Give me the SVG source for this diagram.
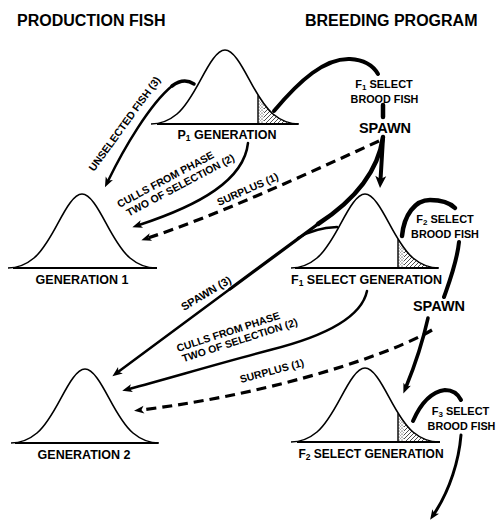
<svg xmlns="http://www.w3.org/2000/svg" xmlns:xlink="http://www.w3.org/1999/xlink" width="500" height="528" viewBox="0 0 500 528">
<style>
.t{font-family:"Liberation Sans",Arial,Helvetica,sans-serif;font-weight:bold;fill:#000}
.bell{fill:none;stroke:#000;stroke-width:1.6}
.base{stroke:#000;stroke-width:2}
.vl{stroke:#000;stroke-width:1.4}
.hatch{fill:url(#hatch);stroke:none}
.stip{fill:url(#stip);stroke:none}
.c{fill:none;stroke:#000;stroke-linecap:round}
.d{stroke-dasharray:10 6;stroke-linecap:butt}
.lbl{font-size:10.5px}
.cap{font-size:12.5px}
.sm{font-size:11px}
.sp{font-size:14.5px}
</style>
<defs>
<pattern id="hatch" patternUnits="userSpaceOnUse" width="4" height="4"><path d="M-1,1 L1,-1 M0,4 L4,0 M3,5 L5,3" stroke="#000" stroke-width="0.7"/></pattern>
<pattern id="stip" patternUnits="userSpaceOnUse" width="3" height="3"><rect width="3" height="3" fill="#fff"/><circle cx="1" cy="1" r="0.55" fill="#000"/><circle cx="2.4" cy="2.3" r="0.4" fill="#000"/></pattern>
<path id="bell" class="bell" d="M-74,0 C-65,0 -57.3,-2.23 -48,-10 C-40,-16.66 -32,-29.93 -24,-44.9 C-16,-59.9 -8,-74 0,-74 C8,-74 16,-59.9 24,-44.9 C32,-29.93 40,-16.66 48,-10 C57.3,-2.23 65,0 74,0"/>
<g id="tail">
<path class="hatch" d="M33,0 L33,-28.8 C38,-20.55 43,-14.17 48,-10 C57.3,-2.23 65,0 74,0 Z"/>
<path class="stip" d="M33,0 L33,-28.8 L39,-19.8 L39,0 Z"/>
<line class="vl" x1="33" y1="0" x2="33" y2="-28.8"/>
</g>
<marker id="ah" markerUnits="userSpaceOnUse" markerWidth="12" markerHeight="10" refX="3" refY="4" orient="auto" overflow="visible"><path d="M0,0 L10,4 L0,8 L2.5,4 Z" fill="#000"/></marker>
<marker id="ahb" markerUnits="userSpaceOnUse" markerWidth="14" markerHeight="12" refX="4" refY="5.5" orient="auto" overflow="visible"><path d="M0,0 L12,5.5 L0,11 L3,5.5 Z" fill="#000"/></marker>
</defs>

<rect width="500" height="528" fill="#fff"/>

<g id="titles">
<text class="t" x="17" y="26" font-size="16">PRODUCTION FISH</text>
<text class="t" x="305" y="26" font-size="16">BREEDING PROGRAM</text>
</g>

<g id="p1-generation" transform="translate(225,124)">
<use xlink:href="#tail"/>
<use xlink:href="#bell"/>
<line class="base" x1="-68" y1="0" x2="73" y2="0"/>
<text class="t cap" x="2" y="15" text-anchor="middle">P<tspan font-size="8.5" dy="2">1</tspan><tspan dy="-2"> GENERATION</tspan></text>
</g>

<g id="generation-1" transform="translate(82,268)">
<use xlink:href="#bell"/>
<line class="base" x1="-69" y1="0" x2="75" y2="0"/>
<text class="t cap" x="0" y="16" text-anchor="middle">GENERATION 1</text>
</g>

<g id="f1-select-generation" transform="translate(365,268)">
<use xlink:href="#tail"/>
<use xlink:href="#bell"/>
<line class="base" x1="-70" y1="0" x2="73" y2="0"/>
<text class="t cap" x="1.5" y="16" text-anchor="middle">F<tspan font-size="8.5" dy="2">1</tspan><tspan dy="-2"> SELECT GENERATION</tspan></text>
</g>

<g id="generation-2" transform="translate(85,443)">
<use xlink:href="#bell"/>
<line class="base" x1="-70" y1="0" x2="73" y2="0"/>
<text class="t cap" x="-1" y="16" text-anchor="middle">GENERATION 2</text>
</g>

<g id="f2-select-generation" transform="translate(365,442)">
<use xlink:href="#tail"/>
<use xlink:href="#bell"/>
<line class="base" x1="-68" y1="0" x2="75" y2="0"/>
<text class="t" font-size="12" x="6" y="16" text-anchor="middle">F<tspan font-size="8.5" dy="2">2</tspan><tspan dy="-2"> SELECT GENERATION</tspan></text>
</g>

<g id="f1-brood-fish">
<text class="t sm" x="384" y="88" text-anchor="middle">F<tspan font-size="8" dy="1.5">1</tspan><tspan dy="-1.5"> SELECT</tspan></text>
<text class="t" font-size="10.8" x="384.5" y="103" text-anchor="middle">BROOD FISH</text>
</g>
<g id="spawn-1"><text class="t sp" x="385" y="133" text-anchor="middle">SPAWN</text></g>

<g id="f2-brood-fish">
<text class="t sm" x="445" y="223" text-anchor="middle">F<tspan font-size="8" dy="1.5">2</tspan><tspan dy="-1.5"> SELECT</tspan></text>
<text class="t" font-size="10.8" x="445" y="238" text-anchor="middle">BROOD FISH</text>
</g>
<g id="spawn-2"><text class="t sp" x="439" y="311" text-anchor="middle">SPAWN</text></g>

<g id="f3-brood-fish">
<text class="t sm" x="460.5" y="415" text-anchor="middle">F<tspan font-size="8" dy="1.5">3</tspan><tspan dy="-1.5"> SELECT</tspan></text>
<text class="t" font-size="10.8" x="461.5" y="430" text-anchor="middle">BROOD FISH</text>
</g>

<g id="connectors">
<path class="c" stroke-width="4" d="M274,111 C300,80 325,58 350,59 C366,60 374,67 378,74"/>
<path class="c" stroke-width="4.5" stroke-linecap="butt" d="M383,105 L383,117"/>
<path class="c" stroke-width="4" stroke-linecap="butt" d="M383,138 L380.5,180" marker-end="url(#ahb)"/>
<path class="c" stroke-width="4.5" d="M383,137 C378,172 355,200 318,224"/>
<path class="c" stroke-width="3.3" d="M318,224 L230,289"/>
<path class="c" stroke-width="2.5" d="M230,289 L118,372" marker-end="url(#ah)"/>
<path class="c" stroke-width="2.5" d="M337,227 Q314,228 298,238"/>
<path class="c d" stroke-width="3.2" d="M379,141 C300,177 220,214 148,238" marker-end="url(#ah)"/>
<path class="c" stroke-width="2.5" d="M248,143 C244,180 200,205 139,225" marker-end="url(#ah)"/>
<path class="c" stroke-width="3.5" d="M194,84 C188,80 180,80 172,86"/>
<path class="c" stroke-width="2.5" d="M172,86 C150,104 124,148 108,181" marker-end="url(#ah)"/>
<path class="c" stroke-width="4.5" d="M402,236 C404,215 415,200 430,200 C442,200 450,203 455,208"/>
<path class="c" stroke-width="4" d="M459,242 C457,262 450,280 444,297"/>
<path class="c" stroke-width="3.5" d="M428,318 C422,345 415,365 406,387" marker-end="url(#ah)"/>
<path class="c d" stroke-width="3.2" d="M432,330 C395,352 280,393 141,410" marker-end="url(#ah)"/>
<path class="c" stroke-width="2.5" d="M367,291 C362,315 330,335 270,350 C220,363 170,378 129,389" marker-end="url(#ah)"/>
<path class="c" stroke-width="4" d="M413,421 C420,405 430,392 445,390 C453,390 458,394 461,400"/>
<path class="c" stroke-width="3" d="M461,435 C459,460 450,490 434,514" marker-end="url(#ah)"/>
</g>

<g id="connector-labels">
<text class="t lbl" transform="translate(94,172) rotate(-54)">UNSELECTED FISH (3)</text>
<g transform="translate(119.5,208) rotate(-28)">
<text class="t lbl" x="0" y="0">CULLS FROM PHASE</text>
<text class="t lbl" x="4" y="12">TWO OF SELECTION (2)</text>
</g>
<text class="t lbl" transform="translate(219,206) rotate(-24)">SURPLUS (1)</text>
<text class="t" font-size="11" transform="translate(184,311) rotate(-31)">SPAWN (3)</text>
<g transform="translate(178,352) rotate(-18)">
<text class="t lbl" x="0" y="0">CULLS FROM PHASE</text>
<text class="t lbl" x="2" y="11.5">TWO OF SELECTION (2)</text>
</g>
<text class="t lbl" transform="translate(241,383) rotate(-15)">SURPLUS (1)</text>
</g>
</svg>
